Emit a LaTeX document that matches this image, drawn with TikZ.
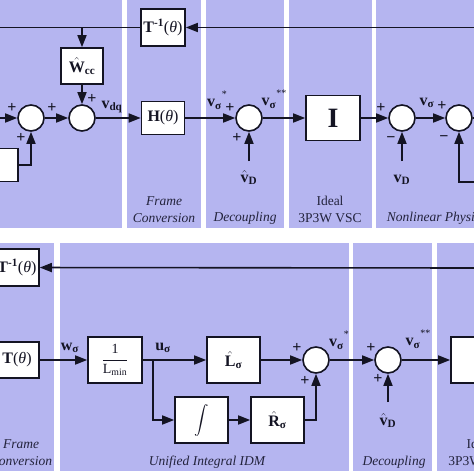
\documentclass[tikz,border=0pt]{standalone}
\usepackage{amsmath}
\usepackage{fontspec}
\setmainfont{Liberation Serif}
\usetikzlibrary{arrows.meta}
\definecolor{panel}{RGB}{181,181,240}
\definecolor{ink}{RGB}{20,20,35}
\definecolor{captink}{RGB}{35,35,60}

\begin{document}
\begin{tikzpicture}[x=1pt,y=-1pt,line width=1.6pt,draw=ink,text=ink,
    >={Triangle[length=12pt,width=9pt]},
    blk/.style={draw,fill=white,inner sep=0pt,font=\bfseries\fontsize{16}{18}\selectfont},
    sumnode/.style={circle,draw,fill=white,minimum size=26pt,inner sep=0pt},
    sig/.style={inner sep=0pt,font=\bfseries\fontsize{16}{17}\selectfont},
    pm/.style={inner sep=0pt,font=\bfseries\fontsize{16}{16}\selectfont},
    vin/.style={sig,anchor=base},
    capt/.style={inner sep=0pt,align=center,text=captink,font=\itshape\fontsize{13.5}{17}\selectfont}]
  \useasboundingbox (0,0) rectangle (474,474);
  \clip (0,0) rectangle (474,474);
  \foreach \a/\b in {-5/122,127/201,206/284,289/372,376/480}
    \fill[panel] (\a,-5) rectangle (\b,228);
  \foreach \a/\b in {-5/54,60/349,353/432,437/480}
    \fill[panel] (\a,243) rectangle (\b,471);

  % upper row
  \coordinate (in1) at (-5,118);
  \coordinate (fbL) at (-5,27.5);
  \coordinate (fbR) at (480,27.5);
  \coordinate (tap) at (82,27.5);
  \coordinate (out5) at (480,118);
  \coordinate (fb5) at (480,182);
  \node[blk,minimum width=44pt,minimum height=37pt] (tinv) at (163,27.5) {T\textsuperscript{-1}{\mdseries(\textit{θ})}};
  \node[blk,minimum width=42pt,minimum height=36pt] (wcc) at (82,66) {$\hat{\mathbf{W}}_{\text{\bfseries cc}}$};
  \node[blk,minimum width=38pt,minimum height=33pt] (lb) at (-1,165) {};
  \node[sumnode] (s1) at (31,118) {};
  \node[sumnode] (s2) at (82,118) {};
  \node[blk,minimum width=43pt,minimum height=33pt] (h) at (163,118) {H{\mdseries(\textit{θ})}};
  \node[sumnode] (s3) at (249,118) {};
  \node[blk,minimum width=54pt,minimum height=45pt,font=\bfseries\fontsize{28}{30}\selectfont] (ideal) at (333,118) {I};
  \node[sumnode] (s4) at (402,118) {};
  \node[sumnode] (s5) at (459,118) {};
  \node[vin,text height=20pt] (vdh) at (249,182) {$\hat{\mathbf{v}}_{\mathbf{D}}$};
  \node[vin,text height=20pt] (vd) at (402,182) {v\textsubscript{D}};

  \draw[->] (in1) -- (s1);
  \draw[->] (lb) -| (s1);
  \draw[->] (s1) -- (s2);
  \draw[->] (fbR) -- (tinv);
  \draw (tinv) -- (fbL);
  \draw[->] (tap) -- (wcc);
  \draw[->] (wcc) -- (s2);
  \draw[->] (s2) -- (h);
  \draw[->] (h) -- (s3);
  \draw[->] (vdh) -- (s3);
  \draw[->] (s3) -- (ideal);
  \draw[->] (ideal) -- (s4);
  \draw[->] (vd) -- (s4);
  \draw[->] (s4) -- (s5);
  \draw (s5) -- (out5);
  \draw[->] (fb5) -| (s5);

  \node[sig] (vdq) at (112,107) {v\textsubscript{dq}};
  \node[sig] (vs1) at (217,100) {v\textsubscript{σ}\raisebox{9pt}{\mdseries\fontsize{10}{10}\selectfont *}};
  \node[sig] (vs2) at (274,99) {v\textsubscript{σ}\raisebox{9pt}{\mdseries\fontsize{10}{10}\selectfont **}};
  \node[sig] (vs3) at (427,103) {v\textsubscript{σ}};
  \foreach \x/\y [count=\i] in {12/108,21/138,52/108,92/99,230/108,237/138,381/108,442/106,297/348,305/381,371/348,378/379}
    \node[pm] (p\i) at (\x,\y) {+};
  \node[pm] (m1) at (391,140) {−};
  \node[pm] (m2) at (444,139) {−};

  \node[capt] (fc1) at (164,210) {Frame\\Conversion};
  \node[capt,anchor=base] (dc1) at (245,221) {Decoupling};
  \node[capt,font=\fontsize{13.5}{17}\selectfont] (vsc1) at (330,209) {Ideal\\3P3W VSC};
  \node[capt,anchor=base west] (np1) at (386,221) {Nonlinear Physical};

  % lower row
  \coordinate (fbR2) at (480,268);
  \coordinate (br) at (153,360);
  \node[blk,minimum width=44pt,minimum height=37pt] (tinv2) at (17,267.5) {T\textsuperscript{-1}{\mdseries(\textit{θ})}};
  \node[blk,minimum width=44pt,minimum height=36pt] (tf) at (17,360) {T{\mdseries(\textit{θ})}};
  \node[blk,minimum width=54pt,minimum height=46pt,font=\mdseries\fontsize{14}{16}\selectfont] (lmin) at (115,360) {$\dfrac{\text{1}}{\text{L}_{\text{min}}}$};
  \node[blk,minimum width=53pt,minimum height=46pt] (lhat) at (233.5,360) {$\hat{\mathbf{L}}_{\text{\bfseries σ}}$};
  \node[blk,minimum width=53pt,minimum height=46pt,font=\mdseries\fontsize{14}{16}\selectfont] (integ) at (201.5,420) {$\displaystyle\int$};
  \node[blk,minimum width=53pt,minimum height=46pt] (rhat) at (277.5,420) {$\hat{\mathbf{R}}_{\text{\bfseries σ}}$};
  \node[sumnode] (s6) at (316,360) {};
  \node[sumnode] (s7) at (388,360) {};
  \node[blk,minimum width=54pt,minimum height=46pt] (ideal2) at (478,360) {};
  \node[vin,text height=22pt] (vdh2) at (388,425) {$\hat{\mathbf{v}}_{\mathbf{D}}$};

  \draw[->] (fbR2) -- (tinv2);
  \draw[->] (tf) -- (lmin);
  \draw[->] (lmin) -- (lhat);
  \draw[->] (br) |- (integ);
  \draw[->] (integ) -- (rhat);
  \draw[->] (lhat) -- (s6);
  \draw[->] (rhat) -| (s6);
  \draw[->] (s6) -- (s7);
  \draw[->] (vdh2) -- (s7);
  \draw[->] (s7) -- (ideal2);

  \node[sig] (ws) at (70,348) {w\textsubscript{σ}};
  \node[sig] (us) at (163,348) {u\textsubscript{σ}};
  \node[sig] (vs4) at (339,340) {v\textsubscript{σ}\raisebox{9pt}{\mdseries\fontsize{10}{10}\selectfont *}};
  \node[sig] (vs5) at (418,339) {v\textsubscript{σ}\raisebox{9pt}{\mdseries\fontsize{10}{10}\selectfont **}};

  \node[capt] (fc2) at (21,453) {Frame\\Conversion};
  \node[capt,anchor=base] (uidm) at (207,465) {Unified Integral IDM};
  \node[capt,anchor=base] (dc2) at (394,465) {Decoupling};
  \node[capt,font=\fontsize{13.5}{17}\selectfont] (vsc2) at (480,452) {Ideal\\3P3W VSC};
\end{tikzpicture}
\end{document}
